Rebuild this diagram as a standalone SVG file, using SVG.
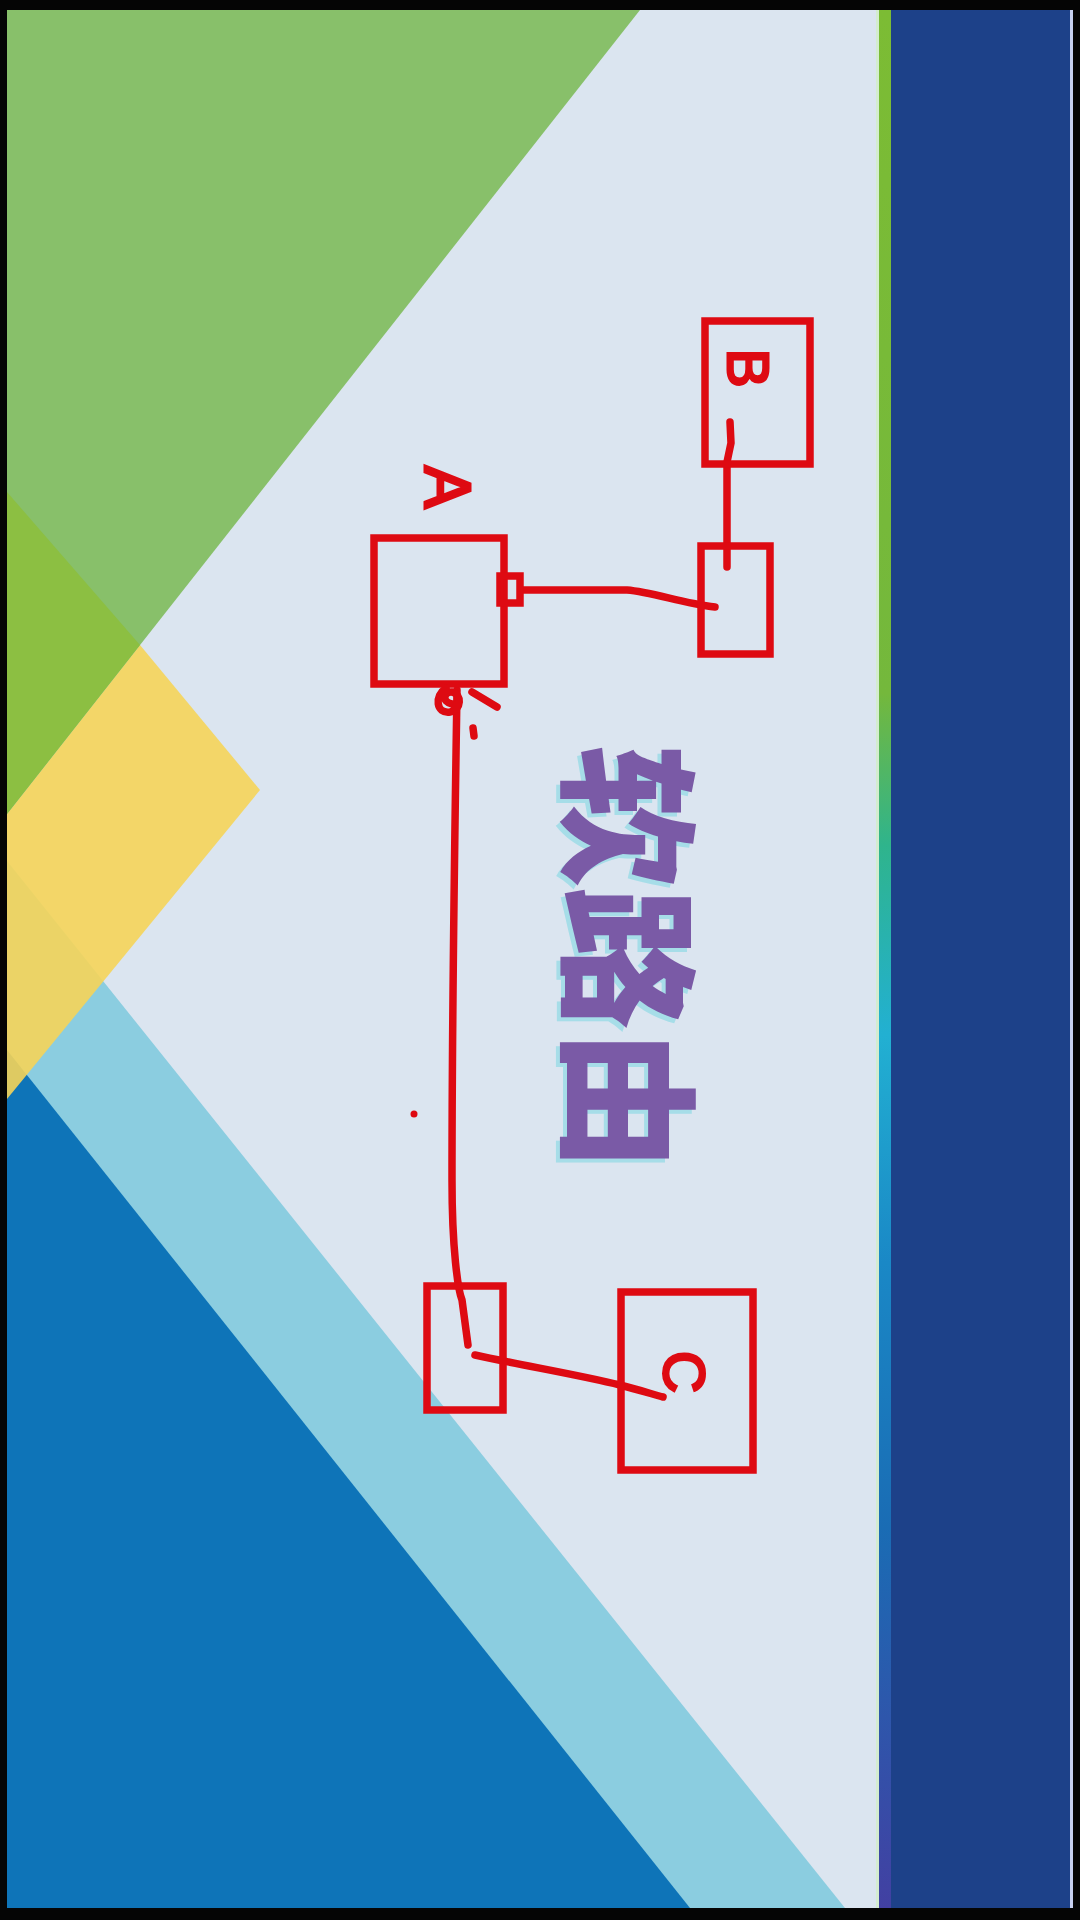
<svg xmlns="http://www.w3.org/2000/svg" width="1080" height="1920" viewBox="0 0 1080 1920">
  <defs>
    <linearGradient id="stripGrad" gradientUnits="userSpaceOnUse" x1="0" y1="10" x2="0" y2="1908">
      <stop offset="0" stop-color="#7cbc34"/>
      <stop offset="0.36" stop-color="#74b83c"/>
      <stop offset="0.44" stop-color="#2fb48c"/>
      <stop offset="0.54" stop-color="#22b0d2"/>
      <stop offset="0.66" stop-color="#1a88c6"/>
      <stop offset="0.8" stop-color="#1a6cb4"/>
      <stop offset="1" stop-color="#4240a2"/>
    </linearGradient>
  </defs>
  <style>
    .pen { fill: none; stroke: #de0a12; stroke-width: 7.5; stroke-linecap: round; stroke-linejoin: round; }
    .box { fill: none; stroke: #de0a12; stroke-width: 7.5; }
    .lbl { font-family: "Liberation Sans", "DejaVu Sans", sans-serif; fill: #de0a12; stroke: #de0a12; stroke-width: 3; text-anchor: middle; dominant-baseline: central; }
    .title { font-family: "Noto Sans CJK SC", "Noto Sans", sans-serif; font-weight: 900; font-size: 142px; text-anchor: middle; dominant-baseline: central; }
  </style>

  <!-- frame and background -->
  <rect x="0" y="0" width="1080" height="1920" fill="#050505"/>
  <rect x="7" y="10" width="1066" height="1898" fill="#dbe5f0"/>

  <!-- decorative shapes -->
  <polygon points="7,861 845,1908 7,1908" fill="#8bcde0"/>
  <polygon points="7,1050 690,1908 7,1908" fill="#0e74b8"/>
  <polygon points="140,645 260,790 7,1099 7,814" fill="#f5d459" fill-opacity="0.9"/>
  <polygon points="7,10 640,10 7,814" fill="#88c06a"/>
  <polygon points="7,492 140,645 7,814" fill="#8cbf42"/>

  <!-- right panel -->
  <rect x="876" y="10" width="3" height="1898" fill="#d4ecd0"/>
  <rect x="879" y="10" width="12" height="1898" fill="url(#stripGrad)"/>
  <rect x="891" y="10" width="179" height="1898" fill="#1d4189"/>
  <rect x="1070" y="10" width="3" height="1898" fill="#c6cff0"/>

  <!-- title -->
  <g id="title">
    <text class="title" transform="translate(632,962) rotate(90)" fill="#a6dde8">软路由</text>
    <text class="title" transform="translate(636,958) rotate(90)" fill="#7a5aa6">软路由</text>
  </g>

  <!-- connectors -->
  <g id="connectors">
    <path class="pen" d="M730,422 L731,443 L727,462 L727,567"/>
    <path class="pen" d="M523,590 L627,590 C652,592 682,603 715,607"/>
    <path class="pen" d="M457,690 C455,820 452,1000 452,1180 C452,1250 458,1290 462,1300 L468,1345"/>
    <path class="pen" d="M475,1355 C520,1365 580,1375 620,1385 C640,1390 655,1395 663,1397"/>
  </g>

  <!-- nodes -->
  <g id="node-B">
    <rect class="box" x="705" y="321" width="105" height="143"/>
    <text class="lbl" font-size="58" transform="translate(748,368) rotate(90)">B</text>
  </g>
  <g id="node-B-port">
    <rect class="box" x="701" y="546" width="69" height="108"/>
  </g>
  <g id="node-A">
    <rect class="box" x="374" y="538" width="130" height="146"/>
    <rect class="box" x="500" y="576" width="20" height="27"/>
    <text class="lbl" font-size="64" transform="translate(447,487) rotate(90)">A</text>
    <path class="pen" d="M446,688 C434,696 436,714 450,712 C462,710 462,694 452,692 C444,691 441,702 452,704"/>
    <path class="pen" d="M472,692 L497,707"/>
    <path class="pen" d="M473,728 L474,736"/>
  </g>
  <g id="node-C-port">
    <rect class="box" x="427" y="1286" width="76" height="124"/>
  </g>
  <g id="node-C">
    <rect class="box" x="621" y="1292" width="132" height="178"/>
    <text class="lbl" font-size="58" transform="translate(684,1372) rotate(90)">C</text>
  </g>
  <circle cx="414" cy="1114" r="3.5" fill="#de0a12"/>
</svg>
